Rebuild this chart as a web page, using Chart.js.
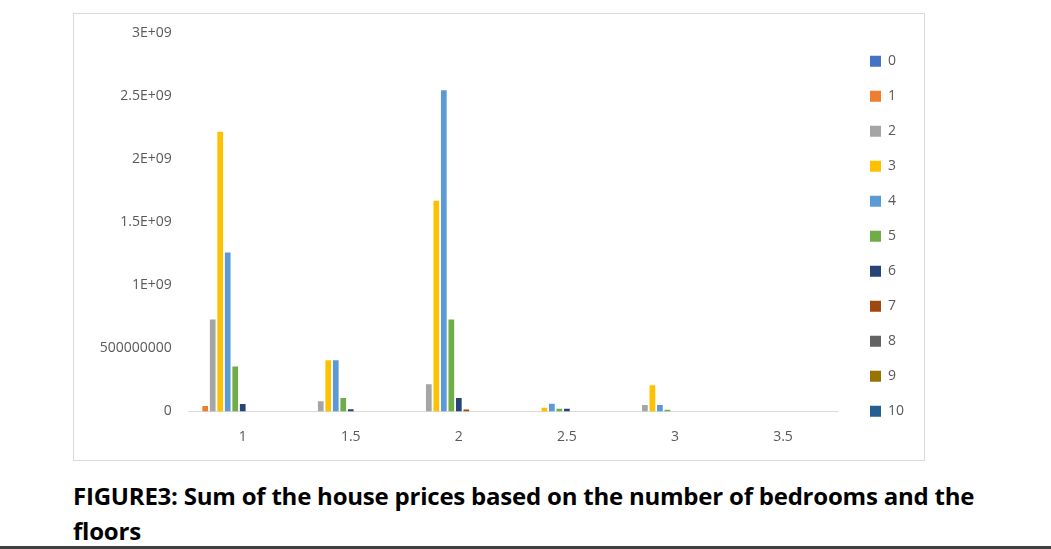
<!DOCTYPE html>
<html>
<head>
<meta charset="utf-8">
<script src="https://cdn.jsdelivr.net/npm/chart.js@4.4.1/dist/chart.umd.min.js"></script>
<style>
  html, body { margin: 0; padding: 0; background: #ffffff; }
  body { width: 1051px; height: 549px; position: relative; overflow: hidden; }
  #frame { position: absolute; left: 73px; top: 13px; width: 850px; height: 446px; border: 1px solid #d9d9d9; }
  #caption { position: absolute; left: 73px; top: 478px; width: 950px; font-family: "Open Sans", sans-serif; font-weight: 700; font-size: 24px; line-height: 35px; color: #000; letter-spacing: -0.22px; }
  #bottombar { position: absolute; left: 0; top: 546px; width: 1051px; height: 3px; background: #404040; }
</style>
</head>
<body>
<div id="frame"><canvas id="c"></canvas></div>
<div id="caption">FIGURE3: Sum of the house prices based on the number of bedrooms and the floors</div>
<div id="bottombar"></div>
<script>
// Floors (x categories)
const categories = ['1', '1.5', '2', '2.5', '3', '3.5'];
// Number of bedrooms (series names)
const seriesNames = ['0', '1', '2', '3', '4', '5', '6', '7', '8', '9', '10'];
// Sum of house prices per bedroom count, one value per floor category
const bedrooms0  = [0, 0, 0, 0, 0, 0];
const bedrooms1  = [44e6, 0, 0, 0, 0, 0];
const bedrooms2  = [730e6, 82e6, 217e6, 0, 52e6, 0];
const bedrooms3  = [2220e6, 407e6, 1672e6, 30e6, 209e6, 0];
const bedrooms4  = [1262e6, 407e6, 2549e6, 62e6, 52e6, 0];
const bedrooms5  = [357e6, 108e6, 730e6, 22e6, 13e6, 0];
const bedrooms6  = [60e6, 18e6, 108e6, 22e6, 0, 0];
const bedrooms7  = [0, 0, 16e6, 0, 0, 0];
const bedrooms8  = [0, 0, 0, 0, 0, 0];
const bedrooms9  = [0, 0, 0, 0, 0, 0];
const bedrooms10 = [0, 0, 0, 0, 0, 0];
// Y tick values
const yTicks = [0, 500000000, 1e9, 1.5e9, 2e9, 2.5e9, 3e9];

const seriesValues = [bedrooms0, bedrooms1, bedrooms2, bedrooms3, bedrooms4, bedrooms5,
                      bedrooms6, bedrooms7, bedrooms8, bedrooms9, bedrooms10];
const colors = ['#4472C4', '#ED7D31', '#A5A5A5', '#FFC000', '#5B9BD5', '#70AD47',
                '#264478', '#9E480E', '#636363', '#997300', '#255E91'];

const datasets = seriesNames.map((name, i) => ({
  label: name,
  data: seriesValues[i],
  backgroundColor: colors[i],
  borderWidth: 0
}));
// two empty slots (Excel group layout places series 6 on the category centre)
for (let k = 0; k < 2; k++) {
  datasets.push({ label: '', data: categories.map(() => null), backgroundColor: 'rgba(0,0,0,0)', borderWidth: 0 });
}

function fmtTick(v) {
  if (v === 0) return '0';
  if (v < 1e9) return String(v);
  return (v / 1e9) + 'E+09';
}

const legendWidthPlugin = {
  id: 'legendWidth',
  beforeLayout(chart) {
    const lg = chart.legend;
    if (lg && !lg.__patched) {
      const f = lg.fit;
      lg.fit = function () { f.apply(this, arguments); this.width = 75; };
      lg.__patched = true;
    }
  }
};

const textColor = '#595959';
const font = { family: '"Open Sans", sans-serif', size: 14 };

new Chart(document.getElementById('c'), {
  type: 'bar',
  data: { labels: categories, datasets: datasets },
  plugins: [legendWidthPlugin],
  options: {
    responsive: true,
    maintainAspectRatio: false,
    animation: false,
    layout: { padding: { top: 19.3, right: 0, bottom: 0, left: 0 } },
    datasets: { bar: { categoryPercentage: 0.903, barPercentage: 0.76 } },
    plugins: {
      tooltip: { enabled: false },
      legend: {
        position: 'right',
        align: 'start',
        labels: {
          boxWidth: 11,
          boxHeight: 11,
          padding: 21,
          color: textColor,
          font: font,
          filter: (item) => item.datasetIndex < seriesNames.length
        }
      }
    },
    scales: {
      x: {
        grid: { display: false, drawTicks: false },
        border: { display: true, color: '#d9d9d9', width: 1 },
        ticks: { color: textColor, font: font, padding: 17, maxRotation: 0 },
        afterFit: (s) => { s.height = 48.5; s.paddingLeft = 0; s.paddingRight = 0; }
      },
      y: {
        min: 0,
        max: 3e9,
        grid: { display: false, drawTicks: false },
        border: { display: false },
        afterBuildTicks: (s) => { s.ticks = yTicks.map(v => ({ value: v })); },
        ticks: { color: textColor, font: font, padding: 17, callback: fmtTick },
        afterFit: (s) => { s.width = 114.7; s.paddingTop = 0; s.paddingBottom = 0; }
      },
      pad: {
        type: 'linear',
        position: 'right',
        display: true,
        grid: { display: false, drawTicks: false },
        border: { display: false },
        ticks: { display: false },
        afterFit: (s) => { s.width = 12; s.paddingTop = 0; s.paddingBottom = 0; }
      }
    }
  }
});
</script>
</body>
</html>
